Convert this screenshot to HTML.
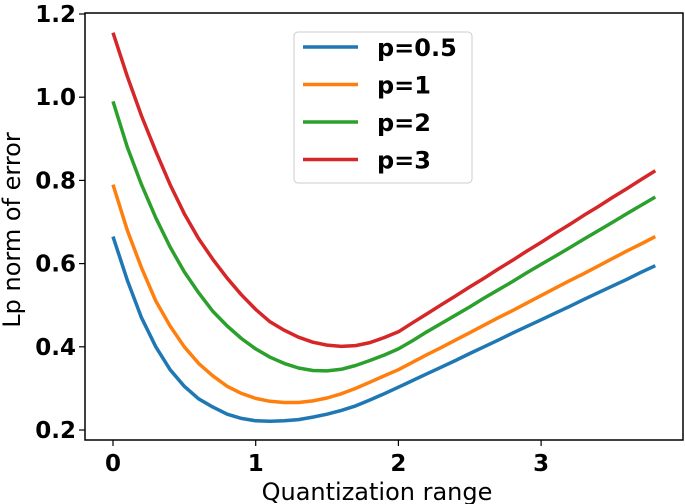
<!DOCTYPE html>
<html><head><meta charset="utf-8"><style>
html,body{margin:0;padding:0;background:#fff;}
svg{display:block;font-family:"DejaVu Sans","Liberation Sans",sans-serif;}
</style></head><body>
<svg id="chart" width="685" height="504" viewBox="0 0 685 504"></svg>
<script>
const xs = [0,0.1,0.2,0.3,0.4,0.5,0.6,0.7,0.8,0.9,1.0,1.1,1.2,1.3,1.4,1.5,1.6,1.7,1.8,1.9,2.0,2.1,2.2,2.3,2.4,2.5,2.6,2.7,2.8,2.9,3.0,3.1,3.2,3.3,3.4,3.5,3.6,3.7,3.8];
const p05 = [0.665,0.56,0.47,0.40,0.345,0.305,0.275,0.255,0.238,0.228,0.222,0.221,0.222,0.225,0.231,0.238,0.247,0.258,0.272,0.287,0.303,0.319,0.335,0.351,0.367,0.384,0.400,0.416,0.433,0.449,0.465,0.481,0.497,0.514,0.530,0.546,0.562,0.579,0.595];
const p1 = [0.79,0.68,0.59,0.51,0.45,0.40,0.36,0.33,0.305,0.288,0.276,0.269,0.266,0.266,0.270,0.277,0.287,0.30,0.315,0.33,0.345,0.363,0.381,0.398,0.416,0.434,0.452,0.470,0.487,0.505,0.523,0.541,0.559,0.576,0.594,0.612,0.630,0.647,0.665];
const p2 = [0.99,0.88,0.79,0.71,0.64,0.58,0.53,0.485,0.45,0.42,0.395,0.375,0.36,0.349,0.343,0.342,0.346,0.355,0.367,0.38,0.395,0.415,0.436,0.456,0.476,0.496,0.517,0.537,0.557,0.578,0.598,0.618,0.638,0.659,0.679,0.699,0.720,0.740,0.760];
const p3 = [1.155,1.05,0.955,0.87,0.79,0.72,0.66,0.61,0.565,0.525,0.49,0.46,0.44,0.423,0.411,0.404,0.401,0.403,0.41,0.422,0.436,0.458,0.479,0.501,0.522,0.544,0.565,0.587,0.608,0.630,0.651,0.673,0.694,0.716,0.737,0.759,0.780,0.802,0.823];
const seriesNames = ["p=0.5","p=1","p=2","p=3"];
const xTicks = [0,1,2,3];
const yTicks = [0.2,0.4,0.6,0.8,1.0,1.2];
const yTickLabels = ["0.2","0.4","0.6","0.8","1.0","1.2"];

const NS="http://www.w3.org/2000/svg";
const svg=document.getElementById('chart');
const L=85,R=683,T=13,B=440;
function sx(v){return 113+v*142.7;}
function sy(v){return 14+(1.2-v)*416;}
function mk(tag,attrs,parent){const e=document.createElementNS(NS,tag);for(const k in attrs)e.setAttribute(k,attrs[k]);(parent||svg).appendChild(e);return e;}
const colors=["#1f77b4","#ff7f0e","#2ca02c","#d62728"];
const data=[p05,p1,p2,p3];
data.forEach((arr,i)=>{
  const d=arr.map((v,j)=>(j?'L':'M')+sx(xs[j]).toFixed(1)+','+sy(v).toFixed(1)).join(' ');
  const p=mk('path',{d:d,fill:'none',stroke:colors[i],'stroke-width':3.5,'stroke-linejoin':'round'});
  
  
});
const fr=mk('rect',{x:L,y:T,width:R-L,height:B-T,fill:'none',stroke:'#000','stroke-width':1.5});


xTicks.forEach(v=>{
  const x=sx(v);
  mk('line',{x1:x,y1:B,x2:x,y2:B+6,stroke:'#000','stroke-width':1.2});
  const t=mk('text',{x:x,y:B+31,'text-anchor':'middle','font-size':23,'font-weight':'bold'});
  t.textContent=v;
  
  
});
yTicks.forEach((v,i)=>{
  const y=sy(v);
  mk('line',{x1:L-6,y1:y,x2:L,y2:y,stroke:'#000','stroke-width':1.2});
  const t=mk('text',{x:L-9,y:y+8,'text-anchor':'end','font-size':23,'font-weight':'bold'});
  t.textContent=yTickLabels[i];
  
  
});
const xl=mk('text',{x:377,y:500,'text-anchor':'middle','font-size':24});
xl.textContent='Quantization range';


const yl=mk('text',{x:0,y:0,'text-anchor':'middle','font-size':24,transform:'translate(20,230) rotate(-90)'});
yl.textContent='Lp norm of error';


const lg=mk('g',{});


mk('rect',{x:294,y:32,width:178,height:151,rx:4,fill:'#fff','fill-opacity':0.85,stroke:'#ccc','stroke-width':1},lg);
seriesNames.forEach((n,i)=>{
  const y=47+i*37.5;
  const ln=mk('line',{x1:303,y1:y,x2:358,y2:y,stroke:colors[i],'stroke-width':3.5},lg);
  
  
  const t=mk('text',{x:377,y:y+9,'font-size':24,'font-weight':'bold'},lg);
  t.textContent=n;
  
  
});
</script>
</body></html>
